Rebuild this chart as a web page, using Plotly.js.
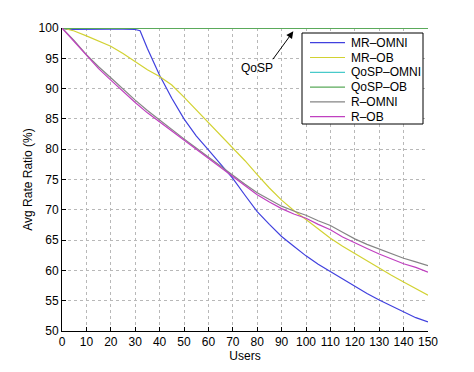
<!DOCTYPE html>
<html>
<head>
<meta charset="utf-8">
<script src="https://cdn.plot.ly/plotly-3.0.1.min.js"></script>
<style>html,body{margin:0;padding:0;background:#fff;}#chart{width:474px;height:372px;}</style>
</head>
<body>
<div id="chart"></div>
<script>
// ---- data ----
var users = [0,5,10,15,20,25,30,35,40,45,50,55,60,65,70,75,80,85,90,95,100,105,110,115,120,125,130,135,140,145,150];

var usersMROMNI = [0,2,5,10,15,20,25,30,32,35,40,45,50,55,60,65,70,75,80,85,90,95,100,105,110,115,120,125,130,135,140,145,150];
var mrOmni = [100,99.75,99.75,99.8,99.8,99.82,99.8,99.75,99.55,96.6,92.2,88.4,85.0,82.2,79.9,77.6,75.2,72.4,69.7,67.6,65.6,64.0,62.4,61.0,59.8,58.5,57.3,56.2,55.1,54.1,53.1,52.2,51.5];

var mrOb = [100,99.5,98.7,97.9,97.0,95.8,94.4,93.1,92.0,90.6,88.6,86.5,84.4,82.4,80.3,78.1,75.8,73.6,71.6,69.9,68.4,66.8,65.3,64.0,62.8,61.5,60.3,59.2,58.1,57.0,55.9];

var usersQoSP = [0,150];
var qospOmni = [100,100];
var qospOb = [100,100];

var rOmni = [100,97.9,95.6,93.6,91.8,89.9,88.1,86.4,84.8,83.2,81.7,80.2,78.7,77.2,75.6,74.2,72.8,71.7,70.6,69.8,69.1,68.2,67.4,66.3,65.2,64.3,63.5,62.7,62.0,61.4,60.8];
var rOb = [100,97.8,95.5,93.3,91.4,89.5,87.7,86.0,84.5,83.0,81.4,80.0,78.5,77.0,75.4,73.9,72.5,71.3,70.2,69.3,68.6,67.6,66.7,65.5,64.5,63.6,62.7,61.9,61.1,60.5,59.7];

var names = ['MR–OMNI','MR–OB','QoSP–OMNI','QoSP–OB','R–OMNI','R–OB'];
var colors = ['#4040de','#d2d232','#48caca','#5aaa5a','#858585','#c040c0'];
var xTicks = [0,10,20,30,40,50,60,70,80,90,100,110,120,130,140,150];
var yTicks = [50,55,60,65,70,75,80,85,90,95,100];

var xs = [usersMROMNI, users, usersQoSP, usersQoSP, users, users];
var ys = [mrOmni, mrOb, qospOmni, qospOb, rOmni, rOb];
var widths = [1.2,1.2,2,2,1.2,1.2];

var traces = [];
for (var i = 0; i < names.length; i++) {
  traces.push({x: xs[i], y: ys[i], name: names[i], type: 'scatter', mode: 'lines',
    line: {color: colors[i], width: widths[i]}, showlegend: false});
}

// ---- layout ----
var W = 474, H = 372, L = 62, R = 46, T = 28, B = 41;
var pw = W - L - R, ph = H - T - B;
function px(xp){ return (xp - L) / pw; }
function py(yp){ return (H - B - yp) / ph; }

var font = {family: 'Liberation Sans, Arial, Helvetica, sans-serif', size: 12, color: '#000'};

var shapes = [];
var annotations = [];
// legend box
shapes.push({type: 'rect', xref: 'paper', yref: 'paper', x0: px(302), x1: px(423), y0: py(124), y1: py(33),
  line: {color: '#000', width: 1}, fillcolor: '#fff', layer: 'above'});
for (var j = 0; j < names.length; j++) {
  var yc = 42.7 + j * 14.8;
  shapes.push({type: 'line', xref: 'paper', yref: 'paper', x0: px(310), x1: px(345), y0: py(yc), y1: py(yc),
    line: {color: colors[j], width: 1.2}, layer: 'above'});
  annotations.push({xref: 'paper', yref: 'paper', x: px(349), y: py(yc), xanchor: 'left', yanchor: 'middle',
    text: names[j], showarrow: false, font: font});
}
// QoSP arrow + label
annotations.push({xref: 'x', yref: 'y', x: 94.8, y: 99.45, axref: 'x', ayref: 'y', ax: 86.0, ay: 94.6,
  text: '', showarrow: true, arrowhead: 2, arrowsize: 1.4, arrowwidth: 1, arrowcolor: '#000'});
annotations.push({xref: 'x', yref: 'y', x: 79.9, y: 93.4, text: 'QoSP', showarrow: false,
  xanchor: 'center', yanchor: 'middle', font: font});

var layout = {
  width: W, height: H,
  margin: {l: L, r: R, t: T, b: B, pad: 0},
  paper_bgcolor: '#fff', plot_bgcolor: '#fff',
  font: font,
  showlegend: false,
  xaxis: {range: [0, 150], tickvals: xTicks, ticks: 'inside', ticklen: 4, tickcolor: '#000',
    showline: true, linecolor: '#000', linewidth: 1, mirror: false, zeroline: false,
    showgrid: true, gridcolor: '#b8b8b8', griddash: 'dot', gridwidth: 1,
    title: {text: 'Users', font: font, standoff: 2}, tickfont: font},
  yaxis: {range: [50, 100], tickvals: yTicks, ticks: 'inside', ticklen: 4, tickcolor: '#000',
    showline: true, linecolor: '#000', linewidth: 1, mirror: false, zeroline: false,
    showgrid: true, gridcolor: '#b8b8b8', griddash: 'dot', gridwidth: 1,
    title: {text: 'Avg Rate Ratio (%)', font: font, standoff: 3}, tickfont: font},
  shapes: shapes,
  annotations: annotations
};

Plotly.newPlot('chart', traces, layout, {staticPlot: true, displayModeBar: false});
</script>
</body>
</html>
